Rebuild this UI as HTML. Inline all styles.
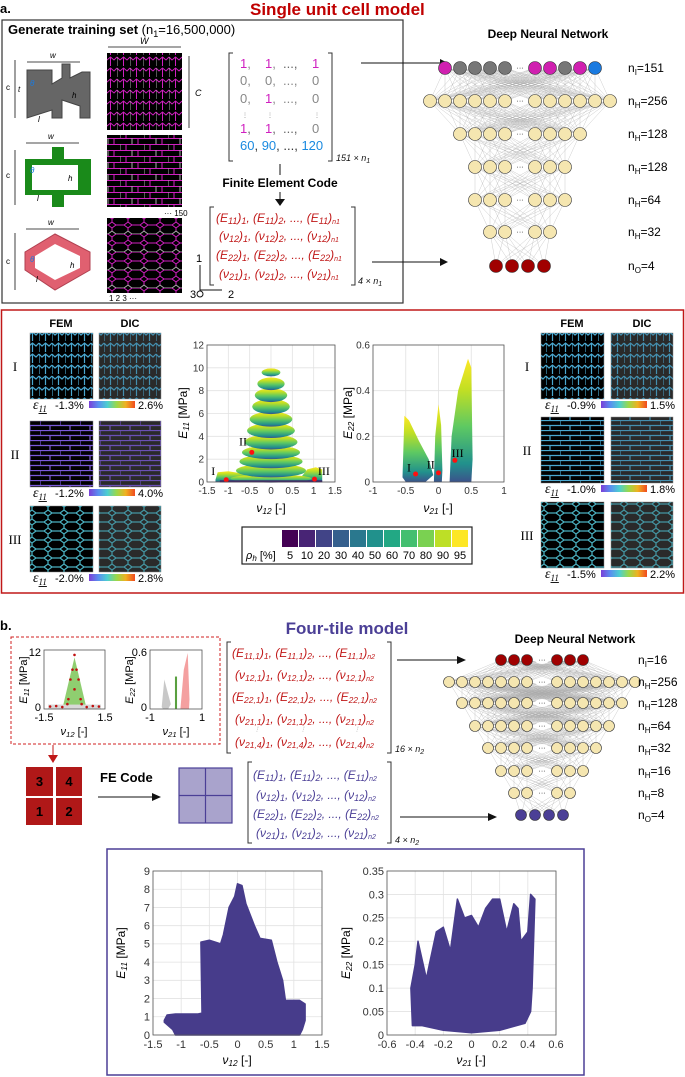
<!DOCTYPE html>
<html><head><meta charset="utf-8">
<style>
html,body{margin:0;padding:0;background:#fff;}
svg{display:block;font-family:"Liberation Sans",sans-serif;}
.it{font-style:italic}
</style></head>
<body>
<svg id="fig" width="685" height="1077" viewBox="0 0 685 1077" xmlns="http://www.w3.org/2000/svg">
<defs>
  <pattern id="pReent" width="13" height="11" patternUnits="userSpaceOnUse">
    <path d="M0,2 L3,5 L6.5,2 L10,5 L13,2 M6.5,2 L6.5,11" stroke="#d020c0" stroke-width="1" fill="none"/>
    <path d="M0,2 L0,11" stroke="#aaa" stroke-width="1"/>
  </pattern>
  <pattern id="pBrick" width="24" height="12" patternUnits="userSpaceOnUse">
    <path d="M0,0.5 H24 M0,6.5 H24 M6,0 V6 M18,6 V12" stroke="#d020c0" stroke-width="1" fill="none"/>
    <path d="M0,0 V6 M12,6 V12" stroke="#aaa" stroke-width="1"/>
  </pattern>
  <pattern id="pHex" width="16" height="18" patternUnits="userSpaceOnUse">
    <path d="M0,3 L4,0 L12,0 L16,3 M4,0 M0,3 L0,6 L4,9 L12,9 L16,6 L16,3 M4,9 L0,12 L0,15 M12,9 L16,12 L16,15" stroke="#d020c0" stroke-width="1" fill="none"/>
    <path d="M0,15 L4,18 L12,18 L16,15" stroke="#aaa" stroke-width="1" fill="none"/>
  </pattern>
  <pattern id="fReent" width="13" height="11" patternUnits="userSpaceOnUse">
    <path d="M0,2 L3,5 L6.5,2 L10,5 L13,2 M6.5,2 L6.5,11 M0,2 L0,11" stroke="#4aa8d0" stroke-width="1.2" fill="none"/>
  </pattern>
  <pattern id="fBrick" width="20" height="10" patternUnits="userSpaceOnUse">
    <path d="M0,0.5 H20 M0,5.5 H20 M0,0 V5 M10,5 V10" stroke="#4aa8d0" stroke-width="1.2" fill="none"/>
  </pattern>
  <pattern id="fBrickP" width="20" height="10" patternUnits="userSpaceOnUse">
    <path d="M0,0.5 H20 M0,5.5 H20 M0,0 V5 M10,5 V10" stroke="#7a5ad8" stroke-width="1.2" fill="none"/>
  </pattern>
  <pattern id="fHex" width="16" height="18" patternUnits="userSpaceOnUse">
    <path d="M0,3 L4,0 L12,0 L16,3 L16,6 L12,9 L4,9 L0,6 Z M4,9 L0,12 L0,15 L4,18 L12,18 L16,15 L16,12 L12,9" stroke="#4ab0c0" stroke-width="1.2" fill="none"/>
  </pattern>
  <linearGradient id="rainbow" x1="0" x2="1" y1="0" y2="0">
    <stop offset="0" stop-color="#7b3fd8"/><stop offset="0.2" stop-color="#5a8ef0"/><stop offset="0.4" stop-color="#4ccfd0"/>
    <stop offset="0.6" stop-color="#9ad84a"/><stop offset="0.8" stop-color="#f0b020"/><stop offset="1" stop-color="#f04a20"/>
  </linearGradient>
  <linearGradient id="lobeG" x1="0" x2="0" y1="1" y2="0">
    <stop offset="0" stop-color="#3b528b"/><stop offset="0.15" stop-color="#21918c"/><stop offset="0.45" stop-color="#5ec962"/><stop offset="0.75" stop-color="#c2df23"/><stop offset="1" stop-color="#fde725"/>
  </linearGradient>
</defs>

<!-- ===== Section a ===== -->
<text x="0" y="13" font-size="13" font-weight="bold">a.</text>
<text x="250" y="15" font-size="17" font-weight="bold" fill="#c00000">Single unit cell model</text>

<rect x="2" y="20" width="401" height="283" fill="none" stroke="#333" stroke-width="1.2"/>
<text x="8" y="34" font-size="13" font-weight="bold">Generate training set <tspan font-weight="normal">(n<tspan font-size="9" dy="3">1</tspan><tspan dy="-3">=16,500,000)</tspan></tspan></text>

<g>
  <polygon points="27,70 52,70 52,84 62,78 62,64 70,64 70,78 82,72 90,72 90,118 80,118 80,106 62,100 62,118 52,118 52,110 27,118" fill="#666" stroke="#444"/>
  <text x="30" y="86" font-size="8" fill="#1a7ae0" class="it">θ</text>
  <text x="72" y="98" font-size="8" class="it">h</text>
  <text x="38" y="122" font-size="8" class="it">l</text>
  <text x="18" y="92" font-size="8" class="it">t</text>
  <path d="M27,62 H80 M15,60 V118" stroke="#111" stroke-width="0.8"/>
  <text x="50" y="58" font-size="8" class="it">w</text><text x="6" y="90" font-size="8">c</text>
</g>
<g>
  <rect x="52" y="147" width="12" height="12" fill="#1a8a1a"/>
  <rect x="25" y="159" width="66" height="36" fill="#1a8a1a"/>
  <rect x="32" y="165" width="46" height="25" fill="#fff"/>
  <rect x="52" y="195" width="12" height="12" fill="#1a8a1a"/>
  <text x="30" y="173" font-size="8" fill="#1a7ae0" class="it">θ</text>
  <text x="68" y="181" font-size="8" class="it">h</text>
  <text x="37" y="201" font-size="8" class="it">l</text>
  <path d="M26,143 H79 M15,150 V205" stroke="#111" stroke-width="0.8"/>
  <text x="48" y="139" font-size="8" class="it">w</text><text x="6" y="178" font-size="8">c</text>
</g>
<g>
  <polygon points="55,234 90,252 90,270 55,290 25,270 25,252" fill="#e06070" stroke="#b04050"/>
  <polygon points="55,244 80,256 80,268 55,280 35,268 35,256" fill="#fff"/>
  <text x="30" y="262" font-size="8" fill="#1a7ae0" class="it">θ</text>
  <text x="70" y="268" font-size="8" class="it">h</text>
  <text x="36" y="282" font-size="8" class="it">l</text>
  <path d="M26,229 H79 M15,233 V290" stroke="#111" stroke-width="0.8"/>
  <text x="48" y="225" font-size="8" class="it">w</text><text x="6" y="264" font-size="8">c</text>
</g>
<rect x="107" y="53" width="75" height="77" fill="#000"/>
<rect x="107" y="53" width="75" height="77" fill="url(#pReent)"/>
<rect x="107" y="135" width="75" height="72" fill="#000"/>
<rect x="107" y="135" width="75" height="72" fill="url(#pBrick)"/>
<rect x="107" y="218" width="75" height="75" fill="#000"/>
<rect x="107" y="218" width="75" height="75" fill="url(#pHex)"/>
<path d="M108,47 H181 M189,56 V128" stroke="#111" stroke-width="0.8"/>
<text x="140" y="44" font-size="9" class="it">W</text>
<text x="195" y="96" font-size="9" class="it">C</text>
<text x="164" y="216" font-size="8">··· 150</text>
<text x="109" y="301" font-size="8">1 2 3 ···</text>

<g font-size="13">
  <path d="M233,53 H229 V161 H233 M328,53 H332 V161 H328" stroke="#333" fill="none"/>
  <text x="240" y="68" fill="#d020c0">1<tspan fill="#888">,</tspan></text><text x="265" y="68" fill="#d020c0">1<tspan fill="#888">,</tspan></text><text x="283" y="68" fill="#666">...,</text><text x="312" y="68" fill="#d020c0">1</text>
  <text x="240" y="85" fill="#888">0,</text><text x="265" y="85" fill="#888">0,</text><text x="283" y="85" fill="#888">...,</text><text x="312" y="85" fill="#888">0</text>
  <text x="240" y="103" fill="#888">0,</text><text x="265" y="103" fill="#d020c0">1<tspan fill="#888">,</tspan></text><text x="283" y="103" fill="#888">...,</text><text x="312" y="103" fill="#888">0</text>
  <text x="242" y="117" font-size="6" fill="#888">⋮</text><text x="267" y="117" font-size="6" fill="#888">⋮</text><text x="314" y="117" font-size="6" fill="#888">⋮</text>
  <text x="240" y="133" fill="#d020c0">1<tspan fill="#666">,</tspan></text><text x="265" y="133" fill="#d020c0">1<tspan fill="#666">,</tspan></text><text x="283" y="133" fill="#666">...,</text><text x="312" y="133" fill="#888">0</text>
  <text x="240" y="150" fill="#1a8ae0">60<tspan fill="#333">,</tspan> 90<tspan fill="#333">, ...,</tspan> 120</text>
  <text x="336" y="161" font-size="9" class="it" fill="#111">151 × n<tspan font-size="7" dy="2">1</tspan></text>
</g>
<path d="M280,164 V175" stroke="#111"/>
<text x="280" y="187" font-size="12" font-weight="bold" text-anchor="middle">Finite Element Code</text>
<path d="M280,192 V200" stroke="#111"/><polygon points="275,199 285,199 280,206" fill="#111"/>
<g font-size="12" fill="#c01818" class="it">
  <path d="M214,207 H210 V285 H214 M351,207 H355 V285 H351" stroke="#333" fill="none"/>
  <text x="216" y="222">(E<tspan font-size="9" dy="2">11</tspan><tspan dy="-2">)</tspan><tspan font-size="9" dy="2">1</tspan><tspan dy="-2">, (E</tspan><tspan font-size="9" dy="2">11</tspan><tspan dy="-2">)</tspan><tspan font-size="9" dy="2">2</tspan><tspan dy="-2">, ..., (E</tspan><tspan font-size="9" dy="2">11</tspan><tspan dy="-2">)</tspan><tspan font-size="7" dy="2">n1</tspan></text>
  <text x="219" y="240">(ν<tspan font-size="9" dy="2">12</tspan><tspan dy="-2">)</tspan><tspan font-size="9" dy="2">1</tspan><tspan dy="-2">, (ν</tspan><tspan font-size="9" dy="2">12</tspan><tspan dy="-2">)</tspan><tspan font-size="9" dy="2">2</tspan><tspan dy="-2">, ..., (ν</tspan><tspan font-size="9" dy="2">12</tspan><tspan dy="-2">)</tspan><tspan font-size="7" dy="2">n1</tspan></text>
  <text x="216" y="259">(E<tspan font-size="9" dy="2">22</tspan><tspan dy="-2">)</tspan><tspan font-size="9" dy="2">1</tspan><tspan dy="-2">, (E</tspan><tspan font-size="9" dy="2">22</tspan><tspan dy="-2">)</tspan><tspan font-size="9" dy="2">2</tspan><tspan dy="-2">, ..., (E</tspan><tspan font-size="9" dy="2">22</tspan><tspan dy="-2">)</tspan><tspan font-size="7" dy="2">n1</tspan></text>
  <text x="219" y="278">(ν<tspan font-size="9" dy="2">21</tspan><tspan dy="-2">)</tspan><tspan font-size="9" dy="2">1</tspan><tspan dy="-2">, (ν</tspan><tspan font-size="9" dy="2">21</tspan><tspan dy="-2">)</tspan><tspan font-size="9" dy="2">2</tspan><tspan dy="-2">, ..., (ν</tspan><tspan font-size="9" dy="2">21</tspan><tspan dy="-2">)</tspan><tspan font-size="7" dy="2">n1</tspan></text>
  <text x="358" y="284" font-size="9" fill="#111">4 × n<tspan font-size="7" dy="2">1</tspan></text>
</g>
<text x="196" y="262" font-size="11">1</text><path d="M200,265 V290 H222" stroke="#111" fill="none"/>
<text x="190" y="298" font-size="11">3</text><circle cx="200" cy="294" r="3" fill="none" stroke="#111"/>
<text x="228" y="298" font-size="11">2</text>
<path d="M361,63 H440" stroke="#111"/><polygon points="440,59 448,63 440,67" fill="#111"/>
<path d="M372,262 H440" stroke="#111"/><polygon points="440,258 448,262 440,266" fill="#111"/>

<text x="548" y="38" font-size="12" font-weight="bold" text-anchor="middle">Deep Neural Network</text>
<g id="dnnA"></g>

<rect x="1.5" y="310" width="682" height="283" fill="none" stroke="#c01818" stroke-width="1.5"/>
<g id="femL"></g>
<g id="femR"></g>
<g id="chartMidL"></g>
<g id="chartMidR"></g>
<g id="rhoLegend"></g>

<!-- ===== Section b ===== -->
<text x="0" y="630" font-size="13" font-weight="bold">b.</text>
<text x="347" y="634" font-size="17" font-weight="bold" fill="#4b3f96" text-anchor="middle">Four-tile model</text>
<rect x="11" y="637" width="209" height="107" fill="none" stroke="#d02020" stroke-dasharray="3,2"/>
<g id="mini"></g>
<path d="M53,745 V756" stroke="#c01818"/><polygon points="48,755 58,755 53,763" fill="#c01818"/>
<g font-weight="bold" font-size="13" text-anchor="middle">
  <rect x="26" y="767" width="27" height="29" fill="#b01818"/><text x="39.5" y="786">3</text>
  <rect x="56" y="767" width="26" height="29" fill="#b01818"/><text x="69" y="786">4</text>
  <rect x="26" y="798" width="27" height="27" fill="#b01818"/><text x="39.5" y="816">1</text>
  <rect x="56" y="798" width="26" height="27" fill="#b01818"/><text x="69" y="816">2</text>
</g>
<text x="100" y="782" font-size="13" font-weight="bold">FE Code</text>
<path d="M98,797 H152" stroke="#111"/><polygon points="152,793 161,797 152,801" fill="#111"/>
<g>
  <rect x="179" y="768" width="53" height="55" fill="#a9a3cc" stroke="#4b3f96" stroke-width="1.2"/>
  <path d="M205.5,768 V823 M179,795.5 H232" stroke="#4b3f96" stroke-width="1.2"/>
</g>
<g font-size="12" fill="#c01818" class="it">
  <path d="M231,642 H227 V753 H231 M387,642 H391 V753 H387" stroke="#333" fill="none"/>
  <text x="232" y="657">(E<tspan font-size="8.5" dy="2">11,1</tspan><tspan dy="-2">)</tspan><tspan font-size="8.5" dy="2">1</tspan><tspan dy="-2">, (E</tspan><tspan font-size="8.5" dy="2">11,1</tspan><tspan dy="-2">)</tspan><tspan font-size="8.5" dy="2">2</tspan><tspan dy="-2">, ..., (E</tspan><tspan font-size="8.5" dy="2">11,1</tspan><tspan dy="-2">)</tspan><tspan font-size="7" dy="2">n2</tspan></text>
  <text x="235" y="679">(ν<tspan font-size="8.5" dy="2">12,1</tspan><tspan dy="-2">)</tspan><tspan font-size="8.5" dy="2">1</tspan><tspan dy="-2">, (ν</tspan><tspan font-size="8.5" dy="2">12,1</tspan><tspan dy="-2">)</tspan><tspan font-size="8.5" dy="2">2</tspan><tspan dy="-2">, ..., (ν</tspan><tspan font-size="8.5" dy="2">12,1</tspan><tspan dy="-2">)</tspan><tspan font-size="7" dy="2">n2</tspan></text>
  <text x="232" y="701">(E<tspan font-size="8.5" dy="2">22,1</tspan><tspan dy="-2">)</tspan><tspan font-size="8.5" dy="2">1</tspan><tspan dy="-2">, (E</tspan><tspan font-size="8.5" dy="2">22,1</tspan><tspan dy="-2">)</tspan><tspan font-size="8.5" dy="2">2</tspan><tspan dy="-2">, ..., (E</tspan><tspan font-size="8.5" dy="2">22,1</tspan><tspan dy="-2">)</tspan><tspan font-size="7" dy="2">n2</tspan></text>
  <text x="235" y="723">(ν<tspan font-size="8.5" dy="2">21,1</tspan><tspan dy="-2">)</tspan><tspan font-size="8.5" dy="2">1</tspan><tspan dy="-2">, (ν</tspan><tspan font-size="8.5" dy="2">21,1</tspan><tspan dy="-2">)</tspan><tspan font-size="8.5" dy="2">2</tspan><tspan dy="-2">, ..., (ν</tspan><tspan font-size="8.5" dy="2">21,1</tspan><tspan dy="-2">)</tspan><tspan font-size="7" dy="2">n2</tspan></text>
  <text x="254" y="731" font-size="6" fill="#888">⋮</text><text x="300" y="731" font-size="6" fill="#888">⋮</text><text x="354" y="731" font-size="6" fill="#888">⋮</text>
  <text x="235" y="746">(ν<tspan font-size="8.5" dy="2">21,4</tspan><tspan dy="-2">)</tspan><tspan font-size="8.5" dy="2">1</tspan><tspan dy="-2">, (ν</tspan><tspan font-size="8.5" dy="2">21,4</tspan><tspan dy="-2">)</tspan><tspan font-size="8.5" dy="2">2</tspan><tspan dy="-2">, ..., (ν</tspan><tspan font-size="8.5" dy="2">21,4</tspan><tspan dy="-2">)</tspan><tspan font-size="7" dy="2">n2</tspan></text>
  <text x="395" y="752" font-size="9" fill="#111">16 × n<tspan font-size="7" dy="2">2</tspan></text>
</g>
<g font-size="12" fill="#4b3f96" class="it">
  <path d="M252,762 H248 V843 H252 M387,762 H391 V843 H387" stroke="#333" fill="none"/>
  <text x="253" y="779">(E<tspan font-size="9" dy="2">11</tspan><tspan dy="-2">)</tspan><tspan font-size="9" dy="2">1</tspan><tspan dy="-2">, (E</tspan><tspan font-size="9" dy="2">11</tspan><tspan dy="-2">)</tspan><tspan font-size="9" dy="2">2</tspan><tspan dy="-2">, ..., (E</tspan><tspan font-size="9" dy="2">11</tspan><tspan dy="-2">)</tspan><tspan font-size="7" dy="2">n2</tspan></text>
  <text x="256" y="799">(ν<tspan font-size="9" dy="2">12</tspan><tspan dy="-2">)</tspan><tspan font-size="9" dy="2">1</tspan><tspan dy="-2">, (ν</tspan><tspan font-size="9" dy="2">12</tspan><tspan dy="-2">)</tspan><tspan font-size="9" dy="2">2</tspan><tspan dy="-2">, ..., (ν</tspan><tspan font-size="9" dy="2">12</tspan><tspan dy="-2">)</tspan><tspan font-size="7" dy="2">n2</tspan></text>
  <text x="253" y="818">(E<tspan font-size="9" dy="2">22</tspan><tspan dy="-2">)</tspan><tspan font-size="9" dy="2">1</tspan><tspan dy="-2">, (E</tspan><tspan font-size="9" dy="2">22</tspan><tspan dy="-2">)</tspan><tspan font-size="9" dy="2">2</tspan><tspan dy="-2">, ..., (E</tspan><tspan font-size="9" dy="2">22</tspan><tspan dy="-2">)</tspan><tspan font-size="7" dy="2">n2</tspan></text>
  <text x="256" y="837">(ν<tspan font-size="9" dy="2">21</tspan><tspan dy="-2">)</tspan><tspan font-size="9" dy="2">1</tspan><tspan dy="-2">, (ν</tspan><tspan font-size="9" dy="2">21</tspan><tspan dy="-2">)</tspan><tspan font-size="9" dy="2">2</tspan><tspan dy="-2">, ..., (ν</tspan><tspan font-size="9" dy="2">21</tspan><tspan dy="-2">)</tspan><tspan font-size="7" dy="2">n2</tspan></text>
  <text x="395" y="843" font-size="9" fill="#111">4 × n<tspan font-size="7" dy="2">2</tspan></text>
</g>
<path d="M397,660 H458" stroke="#111"/><polygon points="457,656 466,660 457,664" fill="#111"/>
<path d="M400,817 H488" stroke="#111"/><polygon points="488,813 497,817 488,821" fill="#111"/>
<text x="575" y="643" font-size="12" font-weight="bold" text-anchor="middle">Deep Neural Network</text>
<g id="dnnB"></g>

<rect x="107" y="849" width="477" height="226" fill="none" stroke="#4b3f96" stroke-width="1.5"/>
<g id="chartBL"></g>
<g id="chartBR"></g>
</svg>

<script>
// ---------- data ----------
const dnnALabels = ["n_I=151","n_H=256","n_H=128","n_H=128","n_H=64","n_H=32","n_O=4"];
const dnnALeft  = [5,6,4,3,3,2,2];
const dnnARight = [5,6,4,3,3,2,2];
const dnnBLabels = ["n_I=16","n_H=256","n_H=128","n_H=64","n_H=32","n_H=16","n_H=8","n_O=4"];
const dnnBLeft  = [3,7,6,5,4,3,2,2];
const dnnBRight = [3,7,6,5,4,3,2,2];

const lobeE   = [0.3,1.0,1.8,2.6,3.5,4.5,5.5,6.6,7.6,8.6,9.6];
const lobeHalfNu = [0.95,0.82,0.74,0.68,0.62,0.56,0.5,0.44,0.38,0.32,0.22];
const lobeHalfE  = [0.35,0.6,0.6,0.6,0.65,0.65,0.65,0.65,0.6,0.55,0.35];
const wingINu = [-1.3,-1.25,-1.0,-0.6,-0.3,-0.3,-1.3];
const wingIE  = [0.2,0.85,0.95,0.7,0.3,0.0,0.0];
const wingIIINu = [0.7,0.85,1.05,1.2,1.2,0.7];
const wingIIIE  = [0.4,1.1,1.3,1.1,0.0,0.0];
const markNuL = [-1.05,-0.45,1.02];
const markEL  = [0.2,2.6,0.25];
const ticksXL = [-1.5,-1,-0.5,0,0.5,1,1.5];
const ticksYL = [0,2,4,6,8,10,12];

const lobe1Nu = [-0.55,-0.52,-0.45,-0.3,-0.15,-0.08,-0.2,-0.5];
const lobe1E  = [0.02,0.29,0.27,0.18,0.1,0.03,0.0,0.0];
const lobe2Nu = [-0.07,-0.05,0.0,0.04,0.06,0.05];
const lobe2E  = [0.0,0.2,0.34,0.25,0.05,0.0];
const lobe3Nu = [0.17,0.2,0.3,0.45,0.5,0.52,0.5];
const lobe3E  = [0.0,0.2,0.4,0.54,0.5,0.1,0.0];
const markNuR = [-0.35,0.0,0.25];
const markER  = [0.035,0.04,0.095];
const ticksXR = [-1,-0.5,0,0.5,1];
const ticksYR = [0,0.2,0.4,0.6];

const rhoVals = [5,10,20,30,40,50,60,70,80,90,95];
const rhoColors = ["#440154","#482475","#414487","#355f8d","#2a788e","#21918c","#22a884","#44bf70","#7ad151","#bddf26","#fde725"];

const strainMinL = ["-1.3%","-1.2%","-2.0%"];
const strainMaxL = ["2.6%","4.0%","2.8%"];
const strainMinR = ["-0.9%","-1.0%","-1.5%"];
const strainMaxR = ["1.5%","1.8%","2.2%"];

const envLNu = [-1.3,-1.25,-1.1,-0.7,-0.63,-0.65,-0.5,-0.3,-0.25,-0.15,-0.05,0.0,0.08,0.15,0.3,0.4,0.6,0.7,0.8,0.85,1.1,1.2,1.2,1.15,1.1,-1.1,-1.15,-1.3];
const envLE  = [0.8,1.1,1.15,1.15,1.2,5.1,5.2,5.0,5.5,7.0,7.6,8.3,8.2,7.2,6.0,5.3,5.2,4.0,3.0,1.9,1.9,1.7,0.8,0.3,0.0,0.0,0.3,0.7];
const ticksXBL = [-1.5,-1,-0.5,0,0.5,1,1.5];
const ticksYBL = [0,1,2,3,4,5,6,7,8,9];
const envRNu = [-0.42,-0.43,-0.4,-0.38,-0.32,-0.3,-0.25,-0.2,-0.15,-0.1,-0.05,0.0,0.05,0.1,0.15,0.2,0.25,0.3,0.33,0.35,0.4,0.42,0.45,0.43,0.42,0.38,0.2,0.0,-0.2,-0.35];
const envRE  = [0.02,0.1,0.15,0.2,0.12,0.15,0.22,0.23,0.18,0.29,0.25,0.255,0.23,0.27,0.29,0.29,0.22,0.28,0.27,0.2,0.22,0.3,0.29,0.1,0.05,0.025,0.01,0.005,0.01,0.02];
const ticksXBR = [-0.6,-0.4,-0.2,0,0.2,0.4,0.6];
const ticksYBR = [0,0.05,0.1,0.15,0.2,0.25,0.3,0.35];

const miniTriNu = [-0.6,0.0,0.6];
const miniTriE  = [0,10.5,0];
const miniDotNu = [-1.2,-0.9,-0.6,-0.3,0,0.3,0.6,0.9,1.2,-0.2,0.2,-0.1,0.1,0,-0.35,0.35];
const miniDotE  = [0.5,0.6,0.4,2,4,2,0.4,0.6,0.5,6,6,8,8,11,1,1];
const miniGreyNu = [-0.55,-0.45,-0.2,-0.3,-0.5];
const miniGreyE  = [0.02,0.3,0.05,0.0,0.0];
const miniPinkNu = [0.17,0.3,0.45,0.52,0.5];
const miniPinkE  = [0.0,0.4,0.57,0.1,0.0];

// ---------- helpers ----------
const NS = "http://www.w3.org/2000/svg";
function el(tag, attrs, parent){
  const e = document.createElementNS(NS, tag);
  for (const k in attrs) e.setAttribute(k, attrs[k]);
  parent.appendChild(e);
  return e;
}
function txt(parent, x, y, s, size, anchor, extra){
  const t = el("text", Object.assign({x:x, y:y, "font-size":size, "text-anchor":anchor||"start"}, extra||{}), parent);
  t.textContent = s;
  return t;
}
function nLabel(parent, x, y, s){
  const parts = s.split("=");
  const t = el("text", {x:x, y:y, "font-size":12}, parent);
  
  
  const sub = parts[0].split("_")[1];
  t.innerHTML = 'n<tspan font-size="8" dy="3">'+sub+'</tspan><tspan dy="-3">='+parts[1]+'</tspan>';
}

function drawDNN(gid, ys, cx, sp, r, lefts, rights, labels, lx, colorsFn){
  const g = document.getElementById(gid);
  const layers = [];
  for (let i=0;i<ys.length;i++){
    const xs = [];
    const last = i===ys.length-1;
    if (last){
      const n = lefts[i]+rights[i];
      for (let k=0;k<n;k++) xs.push(cx + (k-(n-1)/2)*(sp+1));
    } else {
      for (let k=lefts[i]-1;k>=0;k--) xs.push(cx - 15 - k*sp);
      for (let k=0;k<rights[i];k++) xs.push(cx + 15 + k*sp);
    }
    layers.push(xs);
  }
  const lg = el("g", {stroke:"#888", "stroke-width":0.3, opacity:0.7}, g);
  for (let i=0;i<layers.length-1;i++)
    for (const a of layers[i]) for (const b of layers[i+1])
      el("line",{x1:a,y1:ys[i],x2:b,y2:ys[i+1]},lg);
  for (let i=0;i<layers.length;i++){
    layers[i].forEach((x,k)=>{
      const c = el("circle",{cx:x,cy:ys[i],r:r,fill:colorsFn(i,k,layers[i].length, ys.length),stroke:"#333","stroke-width":0.6},g);
      
      
    });
    if (i<layers.length-1){
      el("ellipse",{cx:cx,cy:ys[i],rx:7,ry:4,fill:"#fff"},g);
      txt(g, cx, ys[i]+2, "···", 7, "middle");
    }
    nLabel(g, lx, ys[i]+4, labels[i]);
  }
}
const aInputColors = ["#d020b0","#777","#777","#777","#777","#d020b0","#d020b0","#777","#d020b0","#1a7ae0"];
drawDNN("dnnA",[68,101,134,167,200,232,266],520,15,6.5,dnnALeft,dnnARight,dnnALabels,628,
  (i,k,n,L)=> i===0 ? aInputColors[k] : (i===L-1 ? "#a00000" : "#f5e6b0"));
drawDNN("dnnB",[660,682,703,726,748,771,793,815],542,13,5.5,dnnBLeft,dnnBRight,dnnBLabels,638,
  (i,k,n,L)=> i===0 ? "#a00000" : (i===L-1 ? "#4b3f96" : "#f5e6b0"));

function femPanel(gid, xFem, xDic, xRoman, tops, pats, mins, maxs, xEps){
  const g = document.getElementById(gid);
  txt(g, xFem+31, 327, "FEM", 11, "middle", {"font-weight":"bold"});
  txt(g, xDic+31, 327, "DIC", 11, "middle", {"font-weight":"bold"});
  const romans = ["I","II","III"];
  for (let i=0;i<3;i++){
    const y = tops[i];
    const f = el("rect",{x:xFem,y:y,width:63,height:66,fill:"#000",stroke:"#888","stroke-width":0.5},g);
    
    
    el("rect",{x:xFem,y:y,width:63,height:66,fill:"url(#"+pats[i]+")"},g);
    const d = el("rect",{x:xDic,y:y,width:62,height:66,fill:"#2a2a2a",stroke:"#888","stroke-width":0.5},g);
    
    
    el("rect",{x:xDic,y:y,width:62,height:66,fill:"url(#"+pats[i]+")",opacity:0.8},g);
    txt(g, xRoman, y+38, romans[i], 13, "middle", {"font-family":"Liberation Serif, serif"});
    const ey = y+76;
    const e = el("text",{x:xEps,y:ey,"font-size":14,"font-family":"Liberation Serif, serif","font-style":"italic"},g);
    e.innerHTML = 'ε<tspan font-size="9" dy="3" text-decoration="underline">11</tspan>';
    txt(g, xEps+22, ey, mins[i], 11, "start");
    const cb = el("rect",{x:xEps+56,y:ey-8,width:46,height:7,fill:"url(#rainbow)"},g);
    
    
    txt(g, xEps+105, ey, maxs[i], 11, "start");
  }
}
femPanel("femL",30,99,15,[333,421,506],["fReent","fBrickP","fHex"],strainMinL,strainMaxL,33);
femPanel("femR",541,611,527,[333,417,502],["fReent","fBrick","fHex"],strainMinR,strainMaxR,545);

function axes(g, x0,x1,y0,y1, xs, ys, xTicks, yTicks, fs){
  el("rect",{x:x0,y:y1,width:x1-x0,height:y0-y1,fill:"#fff"},g);
  const gg = el("g",{stroke:"#e2e2e2","stroke-width":0.8},g);
  xTicks.forEach(t=>{ el("line",{x1:xs(t),x2:xs(t),y1:y0,y2:y1},gg); });
  yTicks.forEach(t=>{ el("line",{x1:x0,x2:x1,y1:ys(t),y2:ys(t)},gg); });
  xTicks.forEach(t=>{ const l = txt(g, xs(t), y0+fs+2, String(t), fs, "middle", {fill:"#333"});
    
     });
  yTicks.forEach(t=>{ const l = txt(g, x0-3, ys(t)+fs*0.35, String(t), fs, "end", {fill:"#333"});
    
     });
}
function frame(g,x0,x1,y0,y1){ el("rect",{x:x0,y:y1,width:x1-x0,height:y0-y1,fill:"none",stroke:"#555","stroke-width":0.8},g); }
function poly(g, nus, es, xs, ys, attrs, name){
  const pts = nus.map((v,i)=> xs(v).toFixed(1)+","+ys(es[i]).toFixed(1)).join(" ");
  const p = el("polygon", Object.assign({points:pts}, attrs), g);
  
  
  return p;
}
function axisTitle(g, x, y, main, sub, unit, rot, fs){
  const t = el("text",{x:x,y:y,"font-size":fs,"text-anchor":"middle"},g);
  if (rot) t.setAttribute("transform","rotate(-90 "+x+" "+y+")");
  t.innerHTML = '<tspan font-style="italic">'+main+'</tspan><tspan font-size="'+(fs*0.7)+'" dy="2" font-style="italic">'+sub+'</tspan><tspan dy="-2"> '+unit+'</tspan>';
  return t;
}

(function(){
  const g = document.getElementById("chartMidL");
  const X0=207,X1=335,Y0=482,Y1=345;
  const xs = v => X0 + (v+1.5)/3*(X1-X0);
  const ys = e => Y0 - e/12*(Y0-Y1);
  axes(g,X0,X1,Y0,Y1,xs,ys,ticksXL,ticksYL,10);
  poly(g, wingINu, wingIE, xs, ys, {fill:"url(#lobeG)"}, "wing-i");
  poly(g, wingIIINu, wingIIIE, xs, ys, {fill:"url(#lobeG)"}, "wing-iii");
  for (let i=0;i<lobeE.length;i++){
    const e = el("ellipse",{cx:xs(0),cy:ys(lobeE[i]),rx:xs(lobeHalfNu[i])-xs(0),ry:ys(0)-ys(lobeHalfE[i]),fill:"url(#lobeG)"},g);
    
    
  }
  el("line",{x1:xs(-1.2),x2:xs(1.2),y1:ys(0.05),y2:ys(0.05),stroke:"#3b1a6a","stroke-width":2},g);
  for (let i=0;i<markNuL.length;i++){
    const c = el("circle",{cx:xs(markNuL[i]),cy:ys(markEL[i]),r:2.5,fill:"#ff1010"},g);
    
    
  }
  txt(g, xs(-1.4), ys(0.6), "I", 12, "start", {"font-family":"Liberation Serif, serif"});
  txt(g, xs(-0.75), ys(3.2), "II", 12, "start", {"font-family":"Liberation Serif, serif"});
  txt(g, xs(1.1), ys(0.6), "III", 12, "start", {"font-family":"Liberation Serif, serif"});
  frame(g,X0,X1,Y0,Y1);
  axisTitle(g, 187, 413, "E", "11", "[MPa]", true, 12);
  axisTitle(g, 271, 512, "ν", "12", "[-]", false, 12);
})();

(function(){
  const g = document.getElementById("chartMidR");
  const X0=373,X1=504,Y0=482,Y1=345;
  const xs = v => X0 + (v+1)/2*(X1-X0);
  const ys = e => Y0 - e/0.6*(Y0-Y1);
  axes(g,X0,X1,Y0,Y1,xs,ys,ticksXR,ticksYR,10);
  poly(g, lobe1Nu, lobe1E, xs, ys, {fill:"url(#lobeG)"}, "lobe-reentrant");
  poly(g, lobe2Nu, lobe2E, xs, ys, {fill:"url(#lobeG)"}, "lobe-brick");
  poly(g, lobe3Nu, lobe3E, xs, ys, {fill:"url(#lobeG)"}, "lobe-hex");
  for (let i=0;i<markNuR.length;i++){
    const c = el("circle",{cx:xs(markNuR[i]),cy:ys(markER[i]),r:2.5,fill:"#ff1010"},g);
    
    
  }
  txt(g, xs(-0.48), ys(0.045), "I", 12, "start", {"font-family":"Liberation Serif, serif"});
  txt(g, xs(-0.18), ys(0.06), "II", 12, "start", {"font-family":"Liberation Serif, serif"});
  txt(g, xs(0.2), ys(0.11), "III", 12, "start", {"font-family":"Liberation Serif, serif"});
  frame(g,X0,X1,Y0,Y1);
  axisTitle(g, 352, 413, "E", "22", "[MPa]", true, 12);
  axisTitle(g, 438, 512, "ν", "21", "[-]", false, 12);
})();

(function(){
  const g = document.getElementById("rhoLegend");
  el("rect",{x:242,y:527,width:230,height:37,fill:"#fff",stroke:"#222","stroke-width":1.2},g);
  rhoVals.forEach((v,i)=>{
    const r = el("rect",{x:282+i*17,y:530,width:16,height:17,fill:rhoColors[i]},g);
    
    
    txt(g, 290+i*17, 559, String(v), 11, "middle");
  });
  const t = el("text",{x:246,y:559,"font-size":11},g);
  t.innerHTML = '<tspan font-style="italic">ρ</tspan><tspan font-size="8" dy="2" font-style="italic">h</tspan><tspan dy="-2"> [%]</tspan>';
})();

(function(){
  const g = document.getElementById("mini");
  let X0=44,X1=105,Y0=709,Y1=650;
  let xs = v => X0 + (v+1.5)/3*(X1-X0), ys = e => Y0 - e/12*(Y0-Y1);
  poly(g, miniTriNu, miniTriE, xs, ys, {fill:"#8fce70"}, "mini-triangle");
  el("rect",{x:xs(-1.3),y:ys(0.9),width:xs(1.3)-xs(-1.3),height:ys(0)-ys(0.9),fill:"#d8d8d8"},g);
  miniDotNu.forEach((v,i)=>{ const c = el("circle",{cx:xs(v),cy:ys(miniDotE[i]),r:1.3,fill:"#c01010"},g);
    
     });
  frame(g,X0,X1,Y0,Y1);
  txt(g,X0-3,Y1+6,"12",11,"end"); txt(g,X0-3,Y0+2,"0",11,"end");
  txt(g,X0,Y0+12,"-1.5",11,"middle"); txt(g,X1,Y0+12,"1.5",11,"middle");
  axisTitle(g, 27, 680, "E", "11", "[MPa]", true, 11);
  axisTitle(g, 74, 735, "ν", "12", "[-]", false, 11);
  X0=150; X1=202;
  xs = v => X0 + (v+1)/2*(X1-X0); ys = e => Y0 - e/0.6*(Y0-Y1);
  poly(g, miniGreyNu, miniGreyE, xs, ys, {fill:"#c8c8c8"}, "mini-grey-lobe");
  poly(g, miniPinkNu, miniPinkE, xs, ys, {fill:"#f4a0a0"}, "mini-pink-lobe");
  el("rect",{x:xs(-0.04),y:ys(0.33),width:xs(0.04)-xs(-0.04),height:ys(0)-ys(0.33),fill:"#5aa040"},g);
  frame(g,X0,X1,Y0,Y1);
  txt(g,X0-3,Y1+6,"0.6",11,"end"); txt(g,X0-3,Y0+2,"0",11,"end");
  txt(g,X0,Y0+12,"-1",11,"middle"); txt(g,X1,Y0+12,"1",11,"middle");
  axisTitle(g, 133, 680, "E", "22", "[MPa]", true, 11);
  axisTitle(g, 176, 735, "ν", "21", "[-]", false, 11);
})();

(function(){
  const g = document.getElementById("chartBL");
  const X0=153,X1=322,Y0=1035,Y1=871;
  const xs = v => X0 + (v+1.5)/3*(X1-X0);
  const ys = e => Y0 - e/9*(Y0-Y1);
  axes(g,X0,X1,Y0,Y1,xs,ys,ticksXBL,ticksYBL,11);
  poly(g, envLNu, envLE, xs, ys, {fill:"#473c8b",stroke:"#473c8b","stroke-width":1.5,"stroke-linejoin":"round"}, "e11-scatter-cloud");
  frame(g,X0,X1,Y0,Y1);
  axisTitle(g, 125, 953, "E", "11", "[MPa]", true, 12);
  axisTitle(g, 237, 1064, "ν", "12", "[-]", false, 12);
})();
(function(){
  const g = document.getElementById("chartBR");
  const X0=387,X1=556,Y0=1035,Y1=871;
  const xs = v => X0 + (v+0.6)/1.2*(X1-X0);
  const ys = e => Y0 - e/0.35*(Y0-Y1);
  axes(g,X0,X1,Y0,Y1,xs,ys,ticksXBR,ticksYBR,11);
  poly(g, envRNu, envRE, xs, ys, {fill:"#473c8b",stroke:"#473c8b","stroke-width":1.5,"stroke-linejoin":"round"}, "e22-scatter-cloud");
  frame(g,X0,X1,Y0,Y1);
  axisTitle(g, 350, 953, "E", "22", "[MPa]", true, 12);
  axisTitle(g, 471, 1064, "ν", "21", "[-]", false, 12);
})();
</script>
</body></html>
